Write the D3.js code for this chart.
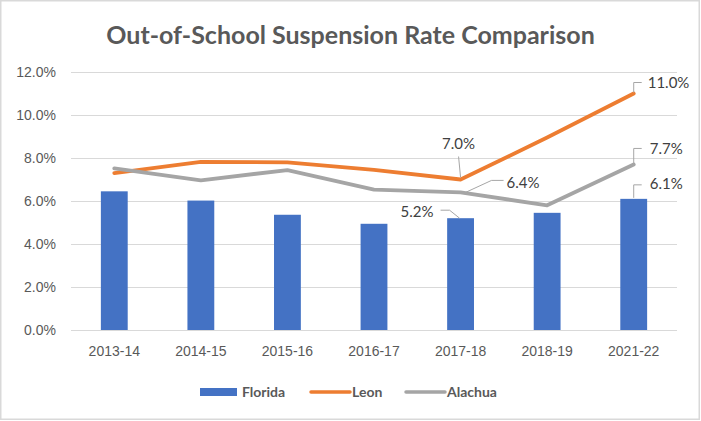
<!DOCTYPE html>
<html>
<head>
<meta charset="utf-8">
<script src="https://cdn.jsdelivr.net/npm/d3@7"></script>
<style>
  body { margin: 0; background: #fff; }
  svg { display: block; font-family: Lato, "Open Sans", sans-serif; }
</style>
</head>
<body>
<script>
const width = 701, height = 421;
const margin = ({top: 72, right: 24, bottom: 91, left: 71})

const years = ["2013-14", "2014-15", "2015-16", "2016-17", "2017-18", "2018-19", "2021-22"];
const florida = [6.45, 6.02, 5.36, 4.94, 5.2, 5.45, 6.1];
const leon = [7.3, 7.82, 7.8, 7.45, 7.0, 8.95, 11.0];
const alachua = [7.52, 6.96, 7.44, 6.53, 6.4, 5.8, 7.7];
const yTicks = [0, 2, 4, 6, 8, 10, 12];

const colors = {Florida: "#4472c4", Leon: "#ed7d31", Alachua: "#a5a5a5"};
const fmt = d => d.toFixed(1) + "%";

// labelled points: series, index, and where the label sits relative to the point
const callouts = [
  {series: "Leon", i: 4, dx: -2, dy: -36, anchor: "middle", leader: [[-2, -23], [0, -2]]},
  {series: "Alachua", i: 4, dx: 46, dy: -10, anchor: "start", leader: [[43, -12], [31, -12], [5, 0]]},
  {series: "Florida", i: 4, dx: -27, dy: -6, anchor: "end", leader: [[-20, -8], [-11, -8], [-1, 0]]},
  {series: "Leon", i: 6, dx: 14, dy: -11, anchor: "start", leader: [[8, -11], [0, -11], [0, -1]]},
  {series: "Alachua", i: 6, dx: 16, dy: -16, anchor: "start", leader: [[8, -16], [0, -16], [0, -1]]},
  {series: "Florida", i: 6, dx: 16, dy: -15, anchor: "start", leader: [[8, -14], [0, -14], [0, -1]]}
];

const x = d3.scaleBand(years, [margin.left, width - margin.right]);
const y = d3.scaleLinear([0, 12], [height - margin.bottom, margin.top]);
const cx = d => x(d) + x.bandwidth() / 2;
const barW = x.bandwidth() * 0.31;

const svg = d3.select("body").append("svg")
    .attr("width", width)
    .attr("height", height);

svg.append("rect")
    .attr("x", 0.75).attr("y", 0.75)
    .attr("width", width - 2.5).attr("height", height - 2.5)
    .attr("fill", "#fff")
    .attr("stroke", "#d9d9d9")
    .attr("stroke-width", 1.5);

svg.append("text")
    .attr("x", width / 2)
    .attr("y", 44)
    .attr("text-anchor", "middle")
    .attr("fill", "#595959")
    .style("font-size", "25px")
    .style("font-weight", "bold")
    .text("Out-of-School Suspension Rate Comparison");

// y axis + gridlines
const yAxis = svg.append("g")
    .attr("transform", `translate(${margin.left},0)`)
    .call(d3.axisLeft(y).tickValues(yTicks).tickFormat(d => d.toFixed(1) + "%")
        .tickSize(-(width - margin.left - margin.right)).tickPadding(15));
yAxis.select(".domain").remove();
yAxis.selectAll(".tick line").attr("stroke", "#d9d9d9").attr("stroke-width", 1.2);
yAxis.selectAll(".tick text").attr("fill", "#595959").style("font-size", "14px");

// x axis labels
const xAxis = svg.append("g")
    .attr("transform", `translate(0,${height - margin.bottom})`)
    .call(d3.axisBottom(x).tickSize(0).tickPadding(16));
xAxis.select(".domain").remove();
xAxis.selectAll(".tick text").attr("fill", "#595959").style("font-size", "14px");

// bars
svg.append("g")
    .attr("fill", colors.Florida)
  .selectAll("rect")
  .data(years)
  .join("rect")
    .attr("x", d => cx(d) - barW / 2)
    .attr("y", (d, i) => y(florida[i]))
    .attr("width", barW)
    .attr("height", (d, i) => y(0) - y(florida[i]));

const line = d3.line()
    .x((d, i) => cx(years[i]))
    .y(d => y(d));

const seriesData = {Florida: florida, Leon: leon, Alachua: alachua};

for (const name of ["Leon", "Alachua"]) {
  svg.append("path")
      .datum(seriesData[name])
      .attr("fill", "none")
      .attr("stroke", colors[name])
      .attr("stroke-width", 3.8)
      .attr("stroke-linejoin", "round")
      .attr("stroke-linecap", "round")
      .attr("d", line);
}

// data labels with leader lines
const lab = svg.append("g");
callouts.forEach(c => {
  const px = cx(years[c.i]);
  const py = y(seriesData[c.series][c.i]);
  lab.append("path")
      .attr("fill", "none")
      .attr("stroke", "#a6a6a6")
      .attr("stroke-width", 1)
      .attr("d", d3.line()(c.leader.map(([a, b]) => [px + a, py + b])));
  lab.append("text")
      .attr("x", px + c.dx)
      .attr("y", py + c.dy)
      .attr("dy", "0.35em")
      .attr("text-anchor", c.anchor)
      .attr("fill", "#404040")
      .style("font-size", "15px")
      .text(fmt(seriesData[c.series][c.i]));
});

// legend
const legend = svg.append("g")
    .attr("transform", "translate(0,392)")
    .style("font-size", "14px")
    .style("font-weight", "bold")
    .attr("fill", "#595959");
const legendItems = [
  {name: "Florida", x: 200, type: "rect"},
  {name: "Leon", x: 310, type: "line"},
  {name: "Alachua", x: 405, type: "line"}
];
legendItems.forEach(l => {
  if (l.type === "rect") {
    legend.append("rect")
        .attr("x", l.x).attr("y", -4)
        .attr("width", 37).attr("height", 8)
        .attr("fill", colors[l.name]);
  } else {
    legend.append("line")
        .attr("x1", l.x + 1).attr("x2", l.x + 40)
        .attr("stroke", colors[l.name])
        .attr("stroke-width", 3.5)
        .attr("stroke-linecap", "round");
  }
  legend.append("text")
      .attr("x", l.x + 42)
      .attr("dy", "0.35em")
      .text(l.name);
});
</script>
</body>
</html>
